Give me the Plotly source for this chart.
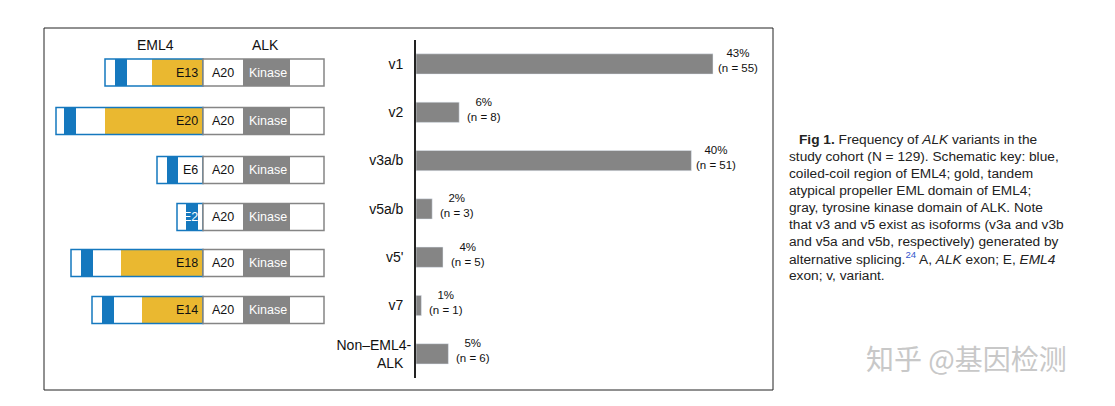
import plotly.graph_objects as go

W, H = 1115, 406
OX, OY = 8, 8  # page body margin compensation
categories = ["v1", "v2", "v3a/b", "v5a/b", "v5'", "v7", "Non–EML4-<br>ALK"]
counts = [55, 8, 51, 3, 5, 1, 6]
percents = ["43%", "6%", "40%", "2%", "4%", "1%", "5%"]

# schematic rows (pixel geometry of the fusion diagrams)
exon_labels = ["E13", "E20", "E6", "E2", "E18", "E14"]
row_left = [105, 56, 157, 177, 71, 92]
blue_start = [115, 64, 167, 186, 81, 102]
blue_end = [127, 76, 178, 198, 93, 114]
gold_start = [152, 105, None, None, 121, 142]
row_center = [72.5, 121, 170, 217, 263, 310]
junction, a20_end, kin_end, right_end = 203, 243, 290, 324
box_h = 27

BLUE = "#1578be"; GOLD = "#eab830"; GRAY = "#858585"

fig = go.Figure()
fig.add_trace(go.Bar(x=counts, y=categories, orientation="h", marker_color=GRAY,
                     width=0.42, hoverinfo="skip"))

def px(x): return (x - OX) / W
def py(y): return 1 - (y - OY) / H

shapes = []
ann = []

def txt(x, y, text, size, color, xa="center", family=None):
    f = dict(size=size, color=color)
    if family: f["family"] = family
    ann.append(dict(x=px(x), y=py(y), xref="paper", yref="paper", text=text, showarrow=False,
                    xanchor=xa, yanchor="middle", font=f))

for i in range(6):
    yc = row_center[i]; y0 = py(yc + box_h / 2); y1 = py(yc - box_h / 2)
    def rect(x0, x1, fill, line=None, lw=0):
        shapes.append(dict(type="rect", xref="paper", yref="paper", x0=px(x0), x1=px(x1),
                           y0=y0, y1=y1, fillcolor=fill, line=dict(width=lw, color=line or fill), layer="above"))
    rect(row_left[i], junction, "white")
    rect(blue_start[i], blue_end[i], BLUE)
    if gold_start[i] is not None:
        rect(gold_start[i], junction, GOLD)
    rect(row_left[i], junction, "rgba(0,0,0,0)", BLUE, 1.5)
    rect(junction, right_end, "white")
    rect(a20_end, kin_end, GRAY)
    rect(junction, right_end, "rgba(0,0,0,0)", GRAY, 1.5)
    txt(junction - 3, yc, exon_labels[i], 12.5, "white" if exon_labels[i] == "E2" else "#111", xa="right")
    txt((junction + a20_end) / 2, yc, "A20", 12.5, "#111")
    txt((a20_end + kin_end) / 2 + 1, yc, "Kinase", 12.5, "white")

txt(155, 45, "EML4", 14, "#111")
txt(265, 45, "ALK", 14, "#111")

for c, n, p in zip(categories, counts, percents):
    ann.append(dict(x=n, y=c, xref="x", yref="y", text=f"{p}<br>(n = {n})", showarrow=False,
                    xanchor="center", yanchor="middle", xshift=25, yshift=3, font=dict(size=11.5, color="#111")))

# frame
shapes.append(dict(type="rect", xref="paper", yref="paper", x0=px(44), x1=px(773), y0=py(390), y1=py(28),
                   line=dict(color="#222", width=1)))

caption = ["<b>Fig 1.</b> Frequency of <i>ALK</i> variants in the",
           "study cohort (N = 129). Schematic key: blue,",
           "coiled-coil region of EML4; gold, tandem",
           "atypical propeller EML domain of EML4;",
           "gray, tyrosine kinase domain of ALK. Note",
           "that v3 and v5 exist as isoforms (v3a and v3b",
           "and v5a and v5b, respectively) generated by",
           "alternative splicing.<sup><span style='color:#3355cc'>24</span></sup> A, <i>ALK</i> exon; E, <i>EML4</i>",
           "exon; v, variant."]
for k, line in enumerate(caption):
    txt(797 if k == 0 else 787, 139 + k * 17, line, 13.7, "#222", xa="left")

txt(966, 358, "知乎 @基因检测", 28, "#c8c8c8", family="Noto Sans CJK SC")

fig.update_layout(
    width=W, height=H, margin=dict(l=0, r=0, t=0, b=0), paper_bgcolor="white", plot_bgcolor="white",
    showlegend=False, shapes=shapes, annotations=ann,
    font=dict(family="Liberation Sans, Arial, sans-serif", color="#111"),
    xaxis=dict(domain=[px(416), px(740)], range=[0, 60], visible=False, fixedrange=True),
    yaxis=dict(domain=[py(378), py(39.8)], autorange="reversed", showline=True,
               linecolor="#222", linewidth=2, ticks="", tickfont=dict(size=14), ticksuffix="  ",
               showgrid=False, zeroline=False),
)
fig.write_html("out.html")
